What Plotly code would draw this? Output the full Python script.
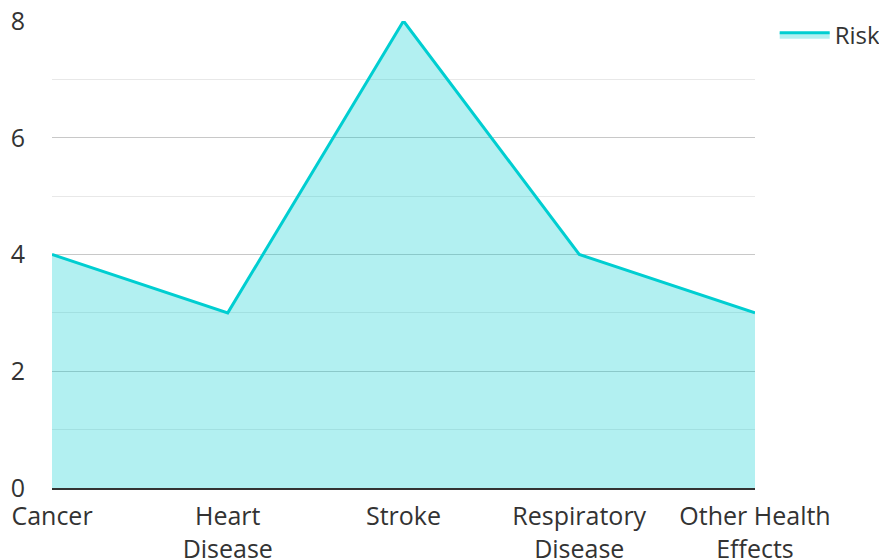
import plotly.graph_objects as go

categories = ["Cancer", "Heart Disease", "Stroke", "Respiratory Disease", "Other Health Effects"]
tick_labels = ["Cancer", "Heart<br>Disease", "Stroke", "Respiratory<br>Disease", "Other Health<br>Effects"]
risk = [4, 3, 8, 4, 3]
y_ticks = [0, 2, 4, 6, 8]

fig = go.Figure()
fig.add_trace(go.Scatter(
    x=categories, y=risk, name="Risk", mode="lines",
    line=dict(color="#00CED1", width=3),
    fill="tozeroy", fillcolor="rgba(0,206,209,0.3)",
))

font_family = "Open Sans"
fs = 25
fig.update_layout(
    width=887, height=560,
    margin=dict(l=44, r=140, t=13, b=80, autoexpand=False),
    paper_bgcolor="white", plot_bgcolor="white",
    font=dict(family=font_family, size=fs, color="#333333"),
    showlegend=True,
    legend=dict(x=1.028, xanchor="left", y=1.018, yanchor="top",
                font=dict(size=24, color="#333333"), itemwidth=50,
                bgcolor="rgba(0,0,0,0)"),
    xaxis=dict(
        type="category", range=[0, 4], automargin=False,
        tickvals=categories, ticktext=tick_labels,
        showgrid=False, zeroline=False,
        showline=True, linecolor="#333333", linewidth=2,
        ticks="", ticklabelstandoff=5, ticklabeloverflow="allow",
        tickfont=dict(size=fs, color="#333333"),
    ),
    yaxis=dict(
        range=[0, 8], tickvals=y_ticks, automargin=False,
        showgrid=True, gridcolor="#c8c8c8", gridwidth=1,
        zeroline=False, showline=False, ticks="",
        ticklabelstandoff=26, ticklabeloverflow="allow",
        tickfont=dict(size=fs, color="#333333"),
        minor=dict(dtick=1, showgrid=True, gridcolor="#e8e8e8", gridwidth=1),
    ),
)

fig.write_html("out.html")
